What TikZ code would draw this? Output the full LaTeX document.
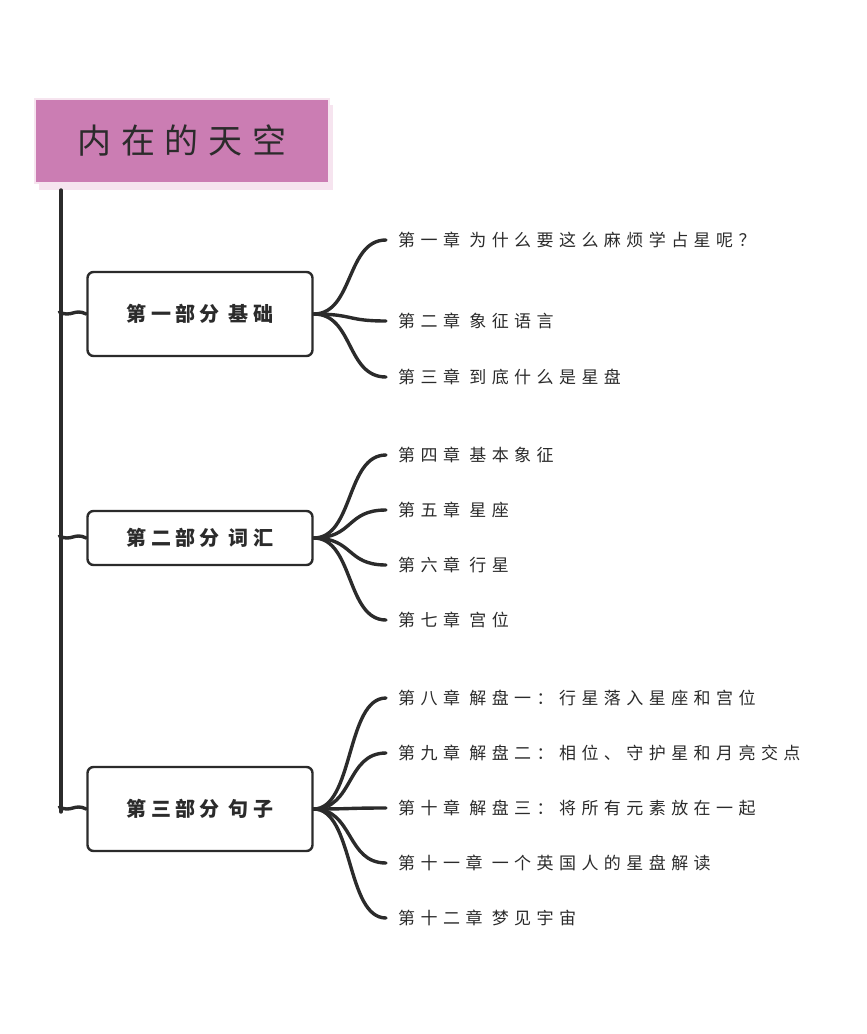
\documentclass[tikz,border=0pt]{standalone}
\usepackage{fontspec}
\newfontfamily\cjk{Noto Sans CJK SC}
\definecolor{titlepink}{HTML}{CB7DB3}
\definecolor{shadowpink}{HTML}{F6E4EF}
\definecolor{inkgray}{HTML}{2B2B2B}
\tikzset{
  partbox/.style={draw=inkgray, line width=2.4pt, rounded corners=6pt, fill=white,
    minimum width=225pt, font=\cjk\fontsize{20}{24}\selectfont\bfseries\addfontfeature{LetterSpace=22}, text=inkgray},
  leaf/.style={anchor=west, font=\cjk\fontsize{17}{20}\selectfont\addfontfeature{LetterSpace=32}, text=inkgray, inner sep=0pt},
  link/.style={draw=inkgray, line width=3.4pt, line cap=round}
}
\begin{document}
\begin{tikzpicture}[x=1pt,y=-1pt]
\useasboundingbox (0,0) rectangle (867,1034);
% title
\fill[shadowpink] (39,105) rectangle (333,190);
\node (title) [draw=shadowpink, line width=2pt, fill=titlepink, minimum width=294pt, minimum height=84pt,
  font=\cjk\fontsize{34}{40}\selectfont\addfontfeature{LetterSpace=28}, text=inkgray] at (182,141) {内在的天空};
% parts
\node (p1) [partbox, minimum height=84pt] at (200,314) {第一部分 基础};
\node (p2) [partbox, minimum height=54pt] at (200,538) {第二部分 词汇};
\node (p3) [partbox, minimum height=84pt] at (200,809) {第三部分 句子};
% trunk
\coordinate (t0) at (61,190);
\coordinate (t3) at (61,812);
\draw[link] (t0) -- (t3);
\foreach \p in {p1,p2,p3}
  \draw[link] (\p.west) .. controls +(-12,-6) and +(12,6) .. ([xshift=-27pt,yshift=2pt]\p.west);
% leaves
\foreach \n/\y/\t in {a1/240/第一章 为什么要这么麻烦学占星呢？, a2/321/第二章 象征语言, a3/377/第三章 到底什么是星盘}
  {\node (\n) [leaf] at (398,\y) {\t}; \draw[link] (p1.east) .. controls +(40,0) and +(-40,0) .. ([xshift=-12pt]\n.west);}
\foreach \n/\y/\t in {b1/455/第四章 基本象征, b2/510/第五章 星座, b3/565/第六章 行星, b4/620/第七章 宫位}
  {\node (\n) [leaf] at (398,\y) {\t}; \draw[link] (p2.east) .. controls +(40,0) and +(-40,0) .. ([xshift=-12pt]\n.west);}
\foreach \n/\y/\t in {c1/698/第八章 解盘一：行星落入星座和宫位, c2/753/第九章 解盘二：相位、守护星和月亮交点, c3/808/第十章 解盘三：将所有元素放在一起, c4/863/第十一章 一个英国人的星盘解读, c5/918/第十二章 梦见宇宙}
  {\node (\n) [leaf] at (398,\y) {\t}; \draw[link] (p3.east) .. controls +(40,0) and +(-40,0) .. ([xshift=-12pt]\n.west);}
\end{tikzpicture}
\end{document}
